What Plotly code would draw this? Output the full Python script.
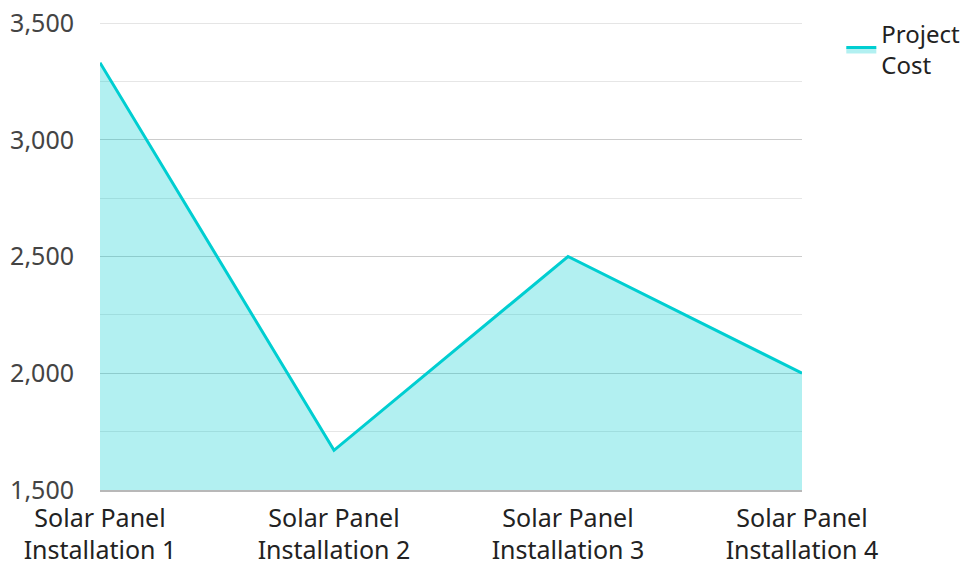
import plotly.graph_objects as go

categories = ["Solar Panel<br>Installation 1", "Solar Panel<br>Installation 2",
              "Solar Panel<br>Installation 3", "Solar Panel<br>Installation 4"]
project_cost = [3330, 1670, 2500, 2000]
series_name = "Project<br>Cost"
y_ticks = [1500, 2000, 2500, 3000, 3500]
y_tick_labels = ["1,500", "2,000", "2,500", "3,000", "3,500"]

fig = go.Figure()
fig.add_trace(go.Scatter(
    x=categories, y=project_cost, name=series_name, mode="lines",
    line=dict(color="#00CED1", width=3),
    fill="tozeroy", fillcolor="rgba(0,206,209,0.3)",
))

# top edge gridline (plotly drops gridlines on the plot edge)
fig.add_shape(type="line", xref="paper", x0=0, x1=1, yref="y",
              y0=y_ticks[-1], y1=y_ticks[-1], line=dict(color="#cccccc", width=1.2),
              layer="below")

fig.update_layout(
    width=964, height=554,
    margin=dict(l=92, r=170, t=15, b=72, autoexpand=False),
    paper_bgcolor="white", plot_bgcolor="white",
    font=dict(family="Noto Sans", size=25, color="#333333"),
    showlegend=True,
    legend=dict(x=1.056, y=1.024, xanchor="left", yanchor="top",
                font=dict(size=24, color="#222222"), bgcolor="rgba(0,0,0,0)"),
    xaxis=dict(type="category", range=[0, 3], showgrid=False, zeroline=False,
               automargin=False, showline=True, linecolor="#b8b8b8", linewidth=1.5,
               layer="below traces", ticklabeloverflow="allow",
               ticks="", ticklabelstandoff=5, tickfont=dict(size=25, color="#222222")),
    yaxis=dict(range=[1500, 3500], tickvals=y_ticks, ticktext=y_tick_labels,
               automargin=False, ticklabeloverflow="allow",
               showgrid=True, gridcolor="#cccccc", gridwidth=1.2, zeroline=False,
               ticks="", ticklabelstandoff=25, tickfont=dict(size=25, color="#444444"),
               minor=dict(dtick=250, tick0=1500, showgrid=True, gridcolor="#e6e6e6", gridwidth=1)),
)

fig.write_html("out.html")
